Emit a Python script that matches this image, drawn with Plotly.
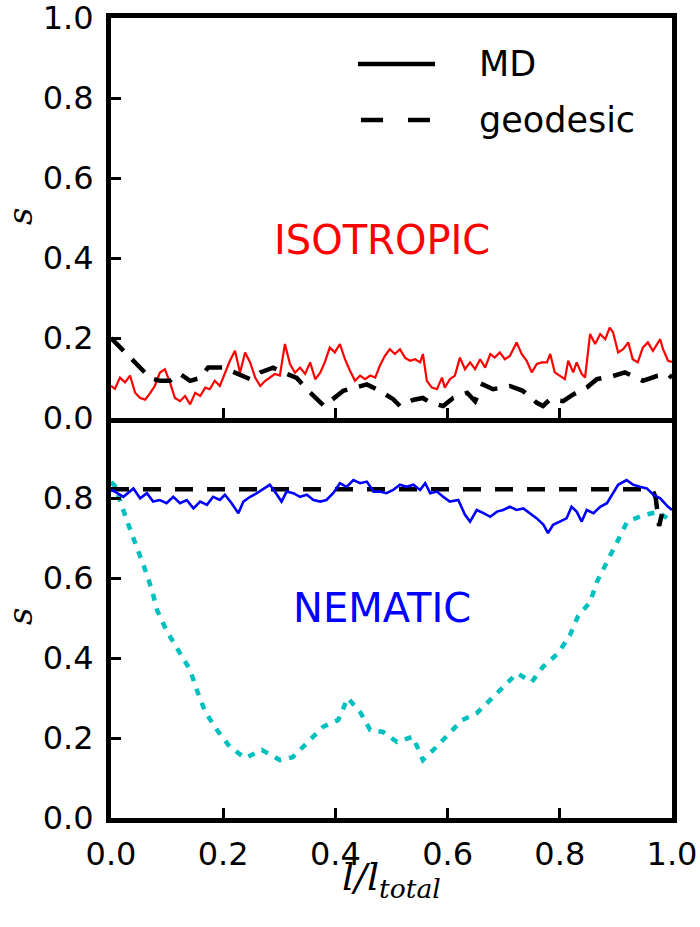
import plotly.graph_objects as go

# ---------------- data ----------------
iso_md_x = [0.0, 0.007, 0.016, 0.025, 0.034, 0.043, 0.052, 0.061, 0.070, 0.078, 0.087, 0.096, 0.105, 0.114,
            0.123, 0.132, 0.141, 0.150, 0.159, 0.168, 0.176, 0.185, 0.194, 0.203, 0.212, 0.221, 0.230,
            0.239, 0.248, 0.257, 0.266, 0.275, 0.283, 0.292, 0.301, 0.310, 0.319, 0.328, 0.337, 0.346,
            0.355, 0.364, 0.373, 0.381, 0.390, 0.399, 0.408, 0.417, 0.426, 0.435, 0.444, 0.453, 0.462,
            0.471, 0.479, 0.488, 0.497, 0.506, 0.515, 0.524, 0.533, 0.542, 0.551, 0.556, 0.563, 0.572,
            0.581, 0.590, 0.595, 0.604, 0.613, 0.622, 0.631, 0.640, 0.649, 0.658, 0.667, 0.676, 0.684,
            0.693, 0.702, 0.711, 0.723, 0.732, 0.741, 0.750, 0.759, 0.768, 0.777, 0.783, 0.791, 0.800,
            0.809, 0.815, 0.824, 0.830, 0.839, 0.845, 0.854, 0.863, 0.872, 0.881, 0.889, 0.895, 0.904,
            0.913, 0.922, 0.930, 0.939, 0.948, 0.957, 0.966, 0.979, 0.984, 0.993, 1.0]
iso_md_s = [0.08, 0.073, 0.101, 0.089, 0.106, 0.063, 0.050, 0.046, 0.063, 0.080, 0.113, 0.122, 0.089, 0.050,
            0.042, 0.055, 0.034, 0.063, 0.055, 0.076, 0.072, 0.093, 0.080, 0.113, 0.143, 0.168, 0.113,
            0.164, 0.139, 0.101, 0.080, 0.093, 0.101, 0.110, 0.106, 0.185, 0.135, 0.113, 0.126, 0.110,
            0.139, 0.097, 0.113, 0.139, 0.176, 0.164, 0.185, 0.147, 0.118, 0.093, 0.106, 0.097, 0.106,
            0.101, 0.130, 0.155, 0.172, 0.160, 0.172, 0.151, 0.143, 0.147, 0.139, 0.160, 0.093, 0.076,
            0.072, 0.101, 0.076, 0.097, 0.106, 0.151, 0.122, 0.139, 0.122, 0.147, 0.126, 0.160, 0.151,
            0.164, 0.147, 0.155, 0.189, 0.160, 0.143, 0.114, 0.135, 0.139, 0.139, 0.160, 0.114, 0.106,
            0.097, 0.143, 0.114, 0.139, 0.110, 0.101, 0.210, 0.185, 0.210, 0.197, 0.226, 0.214, 0.164,
            0.172, 0.189, 0.147, 0.139, 0.176, 0.189, 0.168, 0.197, 0.172, 0.143, 0.14]

iso_geo_x = [0.0, 0.022, 0.046, 0.070, 0.087, 0.105, 0.123, 0.141, 0.159, 0.173, 0.200, 0.218, 0.248,
             0.266, 0.289, 0.307, 0.331, 0.349, 0.373, 0.380, 0.414, 0.438, 0.456, 0.479, 0.503, 0.515,
             0.538, 0.556, 0.569, 0.592, 0.610, 0.635, 0.649, 0.663, 0.681, 0.711, 0.734, 0.759, 0.770,
             0.783, 0.806, 0.824, 0.848, 0.866, 0.895, 0.916, 0.937, 0.948, 0.973, 0.993, 1.0]
iso_geo_s = [0.20, 0.168, 0.135, 0.100, 0.093, 0.093, 0.110, 0.093, 0.100, 0.126, 0.126, 0.114, 0.097,
             0.114, 0.126, 0.114, 0.100, 0.072, 0.038, 0.030, 0.068, 0.076, 0.084, 0.068, 0.047, 0.030,
             0.045, 0.050, 0.038, 0.030, 0.050, 0.063, 0.042, 0.084, 0.072, 0.080, 0.068, 0.038, 0.030,
             0.047, 0.042, 0.059, 0.076, 0.097, 0.105, 0.114, 0.100, 0.093, 0.105, 0.110, 0.10]

nem_md_x = [0.0, 0.007, 0.022, 0.040, 0.052, 0.064, 0.075, 0.087, 0.099, 0.111, 0.123, 0.135, 0.147, 0.159,
            0.171, 0.182, 0.194, 0.203, 0.215, 0.227, 0.236, 0.248, 0.260, 0.272, 0.283, 0.292, 0.304,
            0.313, 0.325, 0.337, 0.349, 0.361, 0.373, 0.384, 0.396, 0.408, 0.420, 0.432, 0.444, 0.456,
            0.468, 0.479, 0.491, 0.503, 0.515, 0.527, 0.539, 0.551, 0.560, 0.569, 0.581, 0.592, 0.604,
            0.619, 0.631, 0.640, 0.652, 0.664, 0.676, 0.688, 0.699, 0.711, 0.723, 0.735, 0.747, 0.759,
            0.771, 0.779, 0.788, 0.800, 0.812, 0.821, 0.830, 0.839, 0.848, 0.860, 0.872, 0.884, 0.895,
            0.904, 0.919, 0.931, 0.943, 0.955, 0.967, 0.979, 0.993, 1.0]
nem_md_s = [0.82, 0.816, 0.803, 0.824, 0.799, 0.812, 0.791, 0.795, 0.787, 0.803, 0.787, 0.795, 0.774, 0.791,
            0.783, 0.803, 0.795, 0.808, 0.787, 0.762, 0.791, 0.803, 0.812, 0.824, 0.833, 0.816, 0.791,
            0.816, 0.812, 0.803, 0.808, 0.795, 0.791, 0.795, 0.812, 0.837, 0.828, 0.845, 0.837, 0.841,
            0.816, 0.816, 0.812, 0.820, 0.833, 0.828, 0.833, 0.820, 0.837, 0.812, 0.816, 0.803, 0.791,
            0.795, 0.758, 0.741, 0.770, 0.762, 0.753, 0.766, 0.770, 0.778, 0.770, 0.774, 0.762, 0.749,
            0.733, 0.712, 0.733, 0.741, 0.749, 0.778, 0.766, 0.741, 0.770, 0.762, 0.778, 0.787, 0.812,
            0.833, 0.845, 0.833, 0.828, 0.824, 0.808, 0.799, 0.778, 0.77]

nem_geo_x = [0.0, 0.965, 0.971, 0.977, 0.982]
nem_geo_s = [0.822, 0.822, 0.80, 0.73, 0.76]

nem_cyan_x = [0.0, 0.007, 0.030, 0.046, 0.061, 0.073, 0.082, 0.100, 0.119, 0.141, 0.153, 0.168, 0.189, 0.212,
              0.239, 0.269, 0.301, 0.324, 0.351, 0.378, 0.405, 0.422, 0.444, 0.462, 0.485, 0.510, 0.538,
              0.556, 0.578, 0.601, 0.626, 0.652, 0.672, 0.699, 0.724, 0.750, 0.770, 0.797, 0.818, 0.832,
              0.854, 0.866, 0.884, 0.902, 0.920, 0.948, 0.975, 0.991]
nem_cyan_s = [0.84, 0.83, 0.737, 0.678, 0.620, 0.570, 0.520, 0.466, 0.420, 0.370, 0.320, 0.265, 0.220, 0.178,
              0.150, 0.170, 0.145, 0.152, 0.190, 0.228, 0.245, 0.300, 0.265, 0.220, 0.215, 0.190, 0.203,
              0.145, 0.175, 0.208, 0.245, 0.262, 0.290, 0.325, 0.362, 0.340, 0.378, 0.412, 0.457, 0.503,
              0.540, 0.590, 0.640, 0.687, 0.740, 0.757, 0.765, 0.750]

y_ticks_top = [0.0, 0.2, 0.4, 0.6, 0.8, 1.0]
y_ticks_bottom = [0.0, 0.2, 0.4, 0.6, 0.8]
x_ticks = [0.0, 0.2, 0.4, 0.6, 0.8, 1.0]

# ---------------- figure ----------------
W, H = 700, 927
ML, MR, MT, MB = 111, 28, 18, 109
PW, PH = W - ML - MR, H - MT - MB


def px_to_paper_x(px):
    return (px - ML) / PW


def py_to_paper_y(py):
    return (H - MB - py) / PH


fig = go.Figure()

fig.add_trace(go.Scatter(x=iso_md_x, y=iso_md_s, mode="lines", line=dict(color="#ff0000", width=2.2),
                         xaxis="x", yaxis="y", name="MD"))
fig.add_trace(go.Scatter(x=iso_geo_x, y=iso_geo_s, mode="lines",
                         line=dict(color="black", width=4.5, dash="18px,12px"),
                         xaxis="x", yaxis="y", name="geodesic"))

fig.add_trace(go.Scatter(x=nem_cyan_x, y=nem_cyan_s, mode="lines",
                         line=dict(color="#00bfbf", width=4.5, dash="7px,8px"),
                         xaxis="x2", yaxis="y2", name="cyan"))
fig.add_trace(go.Scatter(x=nem_geo_x, y=nem_geo_s, mode="lines",
                         line=dict(color="black", width=4.5, dash="18px,14px"),
                         xaxis="x2", yaxis="y2", name="geodesic2"))
fig.add_trace(go.Scatter(x=nem_md_x, y=nem_md_s, mode="lines", line=dict(color="#0000ff", width=2.6),
                         xaxis="x2", yaxis="y2", name="MD2"))

tickfont = dict(family="DejaVu Sans", size=32, color="black")
common_axis = dict(showline=True, linecolor="black", linewidth=5, ticks="inside",
                   ticklen=10, tickwidth=3, tickcolor="black", showgrid=False, zeroline=False,
                   tickfont=tickfont, automargin=False, ticklabeloverflow="allow")

fig.update_layout(
    width=W, height=H,
    margin=dict(l=ML, r=MR, t=MT, b=MB, autoexpand=False),
    paper_bgcolor="white", plot_bgcolor="white",
    showlegend=False,
    xaxis=dict(domain=[0, 1], range=[0, 1], anchor="y", tickvals=x_ticks, showticklabels=False,
               mirror=True, **common_axis),
    yaxis=dict(domain=[0.5, 1], range=[0, 1], anchor="x", tickvals=y_ticks_top, tickformat=".1f",
               ticklabelstandoff=6, mirror=True, **common_axis),
    xaxis2=dict(domain=[0, 1], range=[0, 1], anchor="y2", tickvals=x_ticks, tickformat=".1f",
                ticklabelstandoff=4, mirror=False, **common_axis),
    yaxis2=dict(domain=[0, 0.5], range=[0, 1], anchor="x2", tickvals=y_ticks_bottom, tickformat=".1f",
                ticklabelstandoff=6, mirror=True, **common_axis),
)

annotations = [
    dict(x=0.483, y=0.446, xref="x", yref="y", text="ISOTROPIC", showarrow=False,
         font=dict(family="DejaVu Sans", size=40, color="#ff0000")),
    dict(x=0.483, y=0.525, xref="x2", yref="y2", text="NEMATIC", showarrow=False,
         font=dict(family="DejaVu Sans", size=40, color="#0000ff")),
    dict(x=px_to_paper_x(477), y=py_to_paper_y(64), xref="paper", yref="paper", text="MD",
         showarrow=False, xanchor="left", yanchor="middle",
         font=dict(family="DejaVu Sans", size=35, color="black")),
    dict(x=px_to_paper_x(477), y=py_to_paper_y(120), xref="paper", yref="paper", text="geodesic",
         showarrow=False, xanchor="left", yanchor="middle",
         font=dict(family="DejaVu Sans", size=35, color="black")),
    dict(x=px_to_paper_x(20), y=py_to_paper_y(217), xref="paper", yref="paper", text="<i>s</i>",
         showarrow=False, textangle=-90, xanchor="center", yanchor="middle",
         font=dict(family="DejaVu Serif", size=34, color="black")),
    dict(x=px_to_paper_x(20), y=py_to_paper_y(617), xref="paper", yref="paper", text="<i>s</i>",
         showarrow=False, textangle=-90, xanchor="center", yanchor="middle",
         font=dict(family="DejaVu Serif", size=34, color="black")),
    dict(x=px_to_paper_x(391), y=py_to_paper_y(880), xref="paper", yref="paper",
         text="<i>l/l<sub>total</sub></i>",
         showarrow=False, xanchor="center", yanchor="middle",
         font=dict(family="DejaVu Serif", size=38, color="black")),
]
fig.update_layout(annotations=annotations)

shapes = [
    dict(type="line", xref="paper", yref="paper", x0=px_to_paper_x(358), x1=px_to_paper_x(435),
         y0=py_to_paper_y(64), y1=py_to_paper_y(64), line=dict(color="black", width=4.5)),
    dict(type="line", xref="paper", yref="paper", x0=px_to_paper_x(361), x1=px_to_paper_x(430),
         y0=py_to_paper_y(120), y1=py_to_paper_y(120), line=dict(color="black", width=4.5, dash="22px,25px")),
]
fig.update_layout(shapes=shapes)

fig.write_html("out.html")
